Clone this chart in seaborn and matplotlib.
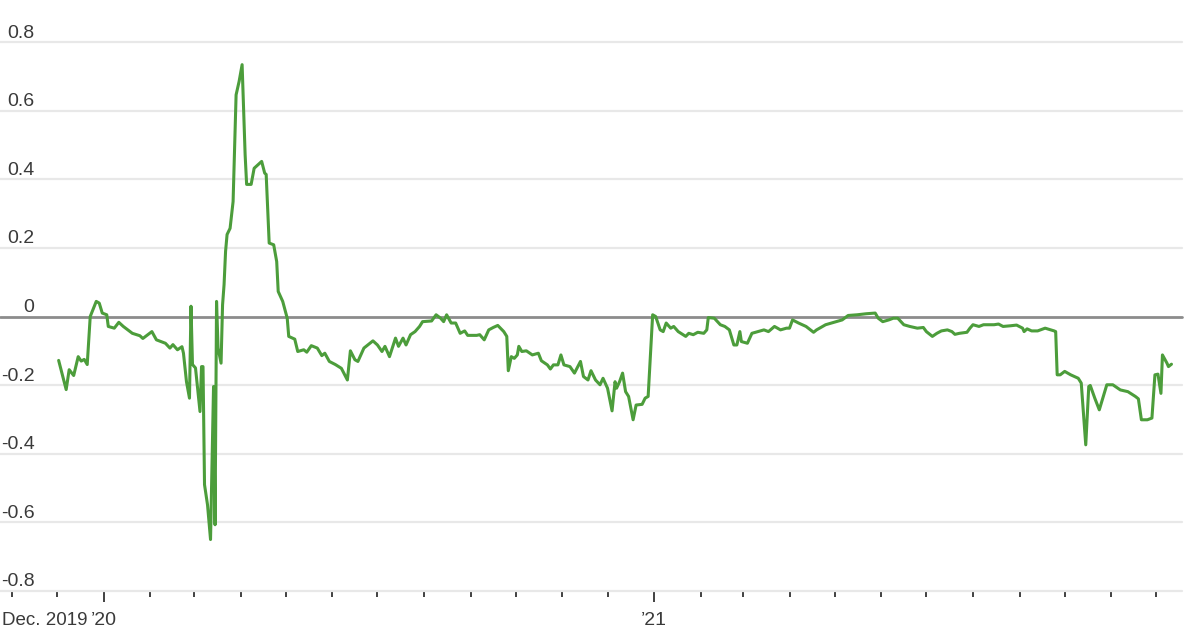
import numpy as np
import pandas as pd
import matplotlib
matplotlib.use('Agg')
import matplotlib.pyplot as plt
import matplotlib.dates as mdates
import matplotlib.transforms as mtransforms
import seaborn as sns

# Data: days after 1 Dec 2019, and the plotted value
start = pd.Timestamp('2019-12-01')
day_offset = [
    1, 6, 8, 11, 14, 16, 18, 20, 22, 26, 28, 30, 33, 34, 38, 41, 44, 50, 55, 57,
    63, 66, 72, 75, 77, 80, 83, 84, 86, 88, 89, 90, 92, 95, 96, 97, 98, 100, 102, 104,
    105, 106, 107, 109, 110, 111, 112, 113, 115, 117, 119, 121, 123, 125, 126, 129, 131, 136, 138, 139,
    141, 144, 146, 147, 150, 153, 154, 158, 160, 164, 166, 169, 173, 176, 178, 181, 185, 189, 193, 195,
    198, 200, 204, 210, 213, 216, 218, 221, 225, 227, 230, 232, 235, 238, 241, 243, 249, 252, 255, 257,
    259, 262, 265, 268, 271, 273, 279, 281, 284, 287, 290, 293, 297, 299, 300, 302, 304, 306, 307, 309,
    312, 316, 320, 322, 326, 328, 330, 333, 335, 337, 341, 344, 348, 350, 353, 355, 358, 361, 363, 366,
    369, 371, 372, 374, 376, 378, 380, 383, 385, 389, 391, 393, 396, 398, 401, 403, 405, 408, 410, 413,
    418, 420, 423, 426, 430, 432, 433, 437, 441, 444, 447, 450, 452, 454, 455, 459, 462, 466, 470, 473,
    477, 481, 485, 487, 489, 493, 498, 503, 505, 511, 515, 518, 522, 526, 532, 538, 544, 546, 549, 553,
    556, 559, 563, 567, 572, 576, 578, 582, 585, 588, 592, 595, 597, 600, 605, 607, 609, 613, 616, 623,
    626, 629, 634, 638, 642, 643, 645, 648, 652, 657, 663, 664, 665, 667, 670, 674, 679, 681, 684, 686,
    687, 690, 693, 698, 702, 707, 712, 717, 719, 721, 725, 728, 730, 732, 734, 735, 738, 739, 741,
]
value = [
    -0.128, -0.213, -0.155, -0.172, -0.117, -0.130, -0.125, -0.140, 0.000, 0.044, 0.039, 0.010, 0.005, -0.029, -0.034, -0.017, -0.029, -0.049, -0.056, -0.064,
    -0.044, -0.068, -0.078, -0.092, -0.082, -0.097, -0.088, -0.107, -0.190, -0.238, 0.030, -0.140, -0.150, -0.277, -0.146, -0.146, -0.490, -0.549, -0.650, -0.204,
    -0.607, 0.044, -0.092, -0.136, 0.034, 0.093, 0.190, 0.239, 0.257, 0.335, 0.646, 0.685, 0.734, 0.472, 0.385, 0.385, 0.432, 0.452, 0.418, 0.414,
    0.214, 0.209, 0.160, 0.073, 0.044, -0.005, -0.058, -0.066, -0.102, -0.097, -0.104, -0.085, -0.092, -0.114, -0.107, -0.131, -0.140, -0.151, -0.185, -0.100,
    -0.126, -0.131, -0.092, -0.071, -0.083, -0.102, -0.087, -0.117, -0.063, -0.087, -0.063, -0.083, -0.053, -0.044, -0.029, -0.015, -0.013, 0.005, -0.005, -0.015,
    0.005, -0.019, -0.019, -0.049, -0.042, -0.055, -0.055, -0.053, -0.068, -0.039, -0.032, -0.026, -0.044, -0.058, -0.158, -0.117, -0.122, -0.112, -0.087, -0.102,
    -0.100, -0.112, -0.107, -0.129, -0.141, -0.153, -0.141, -0.141, -0.112, -0.141, -0.146, -0.165, -0.131, -0.175, -0.185, -0.158, -0.185, -0.199, -0.180, -0.209,
    -0.275, -0.190, -0.209, -0.190, -0.165, -0.219, -0.233, -0.301, -0.258, -0.256, -0.238, -0.233, 0.005, 0.000, -0.039, -0.044, -0.019, -0.034, -0.029, -0.044,
    -0.058, -0.049, -0.053, -0.046, -0.049, -0.039, -0.003, -0.005, -0.024, -0.029, -0.039, -0.083, -0.083, -0.044, -0.073, -0.078, -0.049, -0.044, -0.039, -0.044,
    -0.029, -0.039, -0.034, -0.034, -0.010, -0.019, -0.029, -0.046, -0.039, -0.024, -0.019, -0.015, -0.010, 0.003, 0.005, 0.008, 0.010, -0.005, -0.015, -0.010,
    -0.005, -0.005, -0.024, -0.029, -0.034, -0.032, -0.044, -0.058, -0.049, -0.042, -0.039, -0.044, -0.052, -0.049, -0.046, -0.034, -0.024, -0.029, -0.024, -0.024,
    -0.022, -0.029, -0.027, -0.025, -0.034, -0.044, -0.036, -0.042, -0.042, -0.034, -0.042, -0.044, -0.170, -0.170, -0.160, -0.170, -0.180, -0.194, -0.374, -0.204,
    -0.201, -0.238, -0.272, -0.199, -0.199, -0.214, -0.219, -0.233, -0.240, -0.301, -0.301, -0.296, -0.170, -0.168, -0.224, -0.112, -0.136, -0.146, -0.139,
]
y_ticks = [0.8, 0.6, 0.4, 0.2, 0, -0.2, -0.4, -0.6, -0.8]
y_labels = ['0.8', '0.6', '0.4', '0.2', '0', '-0.2', '-0.4', '-0.6', '-0.8']

df = pd.DataFrame({'date': start + pd.to_timedelta(day_offset, unit='D'), 'value': value})

sns.set_theme(style='white')
plt.rcParams['font.family'] = ['Liberation Sans', 'DejaVu Sans']
text_color = '#3a3a3a'
fsize = 14

fig = plt.figure(figsize=(12, 6.3), dpi=100)
ax = fig.add_axes([0, 1 - 591 / 630, 1182 / 1200, (591 - 42) / 630])

# horizontal grid lines, zero line darker
for v in y_ticks:
    if v == 0:
        ax.axhline(v, color='#8c8c8c', linewidth=2.0, zorder=3, clip_on=False)
    else:
        ax.axhline(v, color='#e8e8e8', linewidth=1.6, zorder=1, clip_on=False)

sns.lineplot(data=df, x='date', y='value', ax=ax, color='#4c9d3b', linewidth=2.2, zorder=4)

ax.set_ylim(-0.8, 0.8)
ax.set_xlim(pd.Timestamp('2019-10-24'), pd.Timestamp('2021-12-18'))
for s in ax.spines.values():
    s.set_visible(False)
ax.set_xlabel('')
ax.set_ylabel('')
ax.set_yticks([])

# y labels sit just above their grid lines
up = mtransforms.ScaledTranslation(0, 0.045, fig.dpi_scale_trans)
ytrans = mtransforms.blended_transform_factory(ax.transAxes, ax.transData) + up
for v, lab in zip(y_ticks, y_labels):
    ax.text(34.5 / 1182, v, lab, transform=ytrans, ha='right', va='baseline',
            fontsize=fsize, color=text_color)

# x ticks: years major, months minor
ax.xaxis.set_major_locator(mdates.YearLocator())
ax.xaxis.set_major_formatter(mdates.DateFormatter('\u2019%y'))
ax.xaxis.set_minor_locator(mdates.MonthLocator())
ax.tick_params(axis='x', which='major', length=8, width=1.3, color='#333333',
               labelsize=fsize, labelcolor=text_color, pad=7, bottom=True)
ax.tick_params(axis='x', which='minor', length=4, width=1.3, color='#333333', bottom=True)

ax.text(87 / 1182, -(625 - 591) / 549, 'Dec. 2019', transform=ax.transAxes, ha='right',
        va='baseline', fontsize=13.5, color=text_color)

fig.savefig('out.png', dpi=100)
